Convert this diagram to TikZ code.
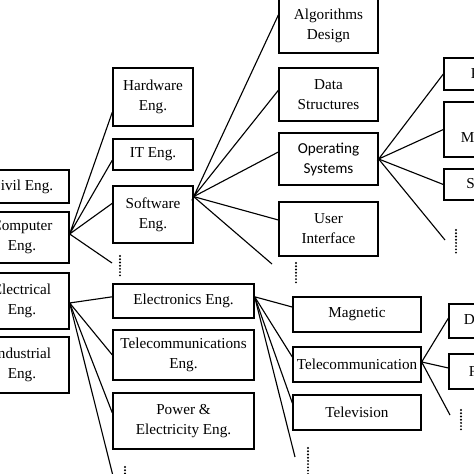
\documentclass[tikz,border=0pt]{standalone}
\usepackage{fontspec}
\setmainfont{Liberation Serif}
\newfontfamily\sansos{Carlito}
\begin{document}
\begin{tikzpicture}[x=0.025cm,y=-0.025cm,
    box/.style={draw,line width=.9pt,inner sep=0pt,align=center,
      font=\fontsize{10.8}{14.2}\selectfont},
    link/.style={line width=.8pt},
    more/.style={line width=1.5pt,line cap=round,dash pattern=on 0pt off 2.3pt}]
  \useasboundingbox (0,0) rectangle (474,474);
  \clip (0,0) rectangle (474,474);

  % fields
  \node[box,minimum width=2.35cm,minimum height=.825cm] (civ) at (22,186.5) {Civil Eng.};
  \node[box,minimum width=2.35cm,minimum height=1.275cm] (ce) at (22,237.5) {Computer\\Eng.};
  \node[box,minimum width=2.35cm,minimum height=1.4cm] (ee) at (22,301) {Electrical\\Eng.};
  \node[box,minimum width=2.35cm,minimum height=1.4cm] (ie) at (22,365) {Industrial\\Eng.};

  % computer eng.
  \node[box,minimum width=2cm,minimum height=1.45cm] (hw) at (153,97) {Hardware\\Eng.};
  \node[box,minimum width=2cm,minimum height=.775cm] (it) at (153,154.5) {IT Eng.};
  \node[box,minimum width=2cm,minimum height=1.425cm] (sw) at (153,214.5) {Software\\Eng.};
  \coordinate (cemore) at (112,263);

  % electrical eng.
  \node[box,minimum width=3.525cm,minimum height=.85cm] (el) at (183.5,301) {Electronics Eng.};
  \node[box,minimum width=3.525cm,minimum height=1.25cm] (tc) at (183.5,355) {Telecommunications\\Eng.};
  \node[box,minimum width=3.525cm,minimum height=1.4cm] (pw) at (183.5,421) {Power \&\\Electricity Eng.};
  \coordinate (eemore) at (113,476);

  % software eng.
  \node[box,minimum width=2.475cm,minimum height=1.375cm] (ad) at (328.5,25.5) {Algorithms\\Design};
  \node[box,minimum width=2.475cm,minimum height=1.325cm] (ds) at (328.5,94.5) {Data\\Structures};
  \node[box,minimum width=2.475cm,minimum height=1.3cm,
    font=\sansos\fontsize{10.8}{14.2}\selectfont] (os) at (328.5,159) {Operating\\Systems};
  \node[box,minimum width=2.475cm,minimum height=1.35cm] (ui) at (328.5,229) {User\\Interface};
  \coordinate (swmore) at (272,264);

  % electronics eng.
  \node[box,minimum width=3.2cm,minimum height=.875cm] (mg) at (357,314.5) {Magnetic};
  \node[box,minimum width=3.2cm,minimum height=.875cm] (tl) at (357,364.5) {Telecommunication};
  \node[box,minimum width=3.2cm,minimum height=.875cm] (tv) at (357,412.5) {Television};
  \coordinate (elmore) at (295,457);

  % operating systems
  \node[box,minimum width=2.825cm,minimum height=.8cm] (pr) at (500.5,74) {Processes};
  \node[box,minimum width=2.825cm,minimum height=1.375cm] (mm) at (500.5,129.5) {Memory\\Management};
  \node[box,minimum width=2.825cm,minimum height=.775cm] (sc) at (500.5,184.5) {Scheduling};
  \coordinate (osmore) at (445,240);

  % telecommunication
  \node[box,minimum width=1.8cm,minimum height=.85cm] (dg) at (485,321) {Digital};
  \node[box,minimum width=1.8cm,minimum height=.875cm] (fb) at (485,371.5) {Fiber};
  \coordinate (tlmore) at (450,415);

  % connectors
  \draw[link] ([yshift=-10.7pt]hw.west) -- ([yshift=2.5pt]ce.east)
    -- ([yshift=-4pt]it.west);
  \draw[link] ([yshift=2.5pt]ce.east) -- ([yshift=8pt]sw.west);
  \draw[link] ([yshift=2.5pt]ce.east) -- (cemore);

  \draw[link] ([yshift=3pt]el.west) -- ([yshift=-1.4pt]ee.east) -- (tc.west);
  \draw[link] ([yshift=-1.4pt]ee.east) -- ([yshift=5.7pt]pw.west);
  \draw[link] ([yshift=-1.4pt]ee.east) -- (eemore);

  \draw[link] ([yshift=7.5pt]ad.west) -- ([yshift=-8pt]sw.north east)
    -- ([yshift=3pt]ds.west);
  \draw[link] ([yshift=-8pt]sw.north east) -- ([yshift=5pt]os.west);
  \draw[link] ([yshift=-8pt]sw.north east) -- ([yshift=6.4pt]ui.west);
  \draw[link] ([yshift=-8pt]sw.north east) -- (swmore);

  \draw[link] (pr.west) -- (os.east) -- (mm.west);
  \draw[link] (os.east) -- (sc.west);
  \draw[link] (os.east) -- (osmore);

  \draw[link] ([yshift=5.3pt]mg.west) -- ([yshift=3pt]el.east)
    -- ([yshift=5.3pt]tl.west);
  \draw[link] ([yshift=3pt]el.east) -- ([yshift=6.7pt]tv.west);
  \draw[link] ([yshift=3pt]el.east) -- (elmore);

  \draw[link] ([yshift=2pt]dg.west) -- ([yshift=1.8pt]tl.east)
    -- ([yshift=2.5pt]fb.west);
  \draw[link] ([yshift=1.8pt]tl.east) -- (tlmore);

  % more items
  \foreach \x/\a/\b in {120/256/277, 296/263/283, 456/230/255,
      461/410/432, 308/448/474, 125/467/480}
    \draw[more] (\x,\a) -- (\x,\b);
\end{tikzpicture}
\end{document}
